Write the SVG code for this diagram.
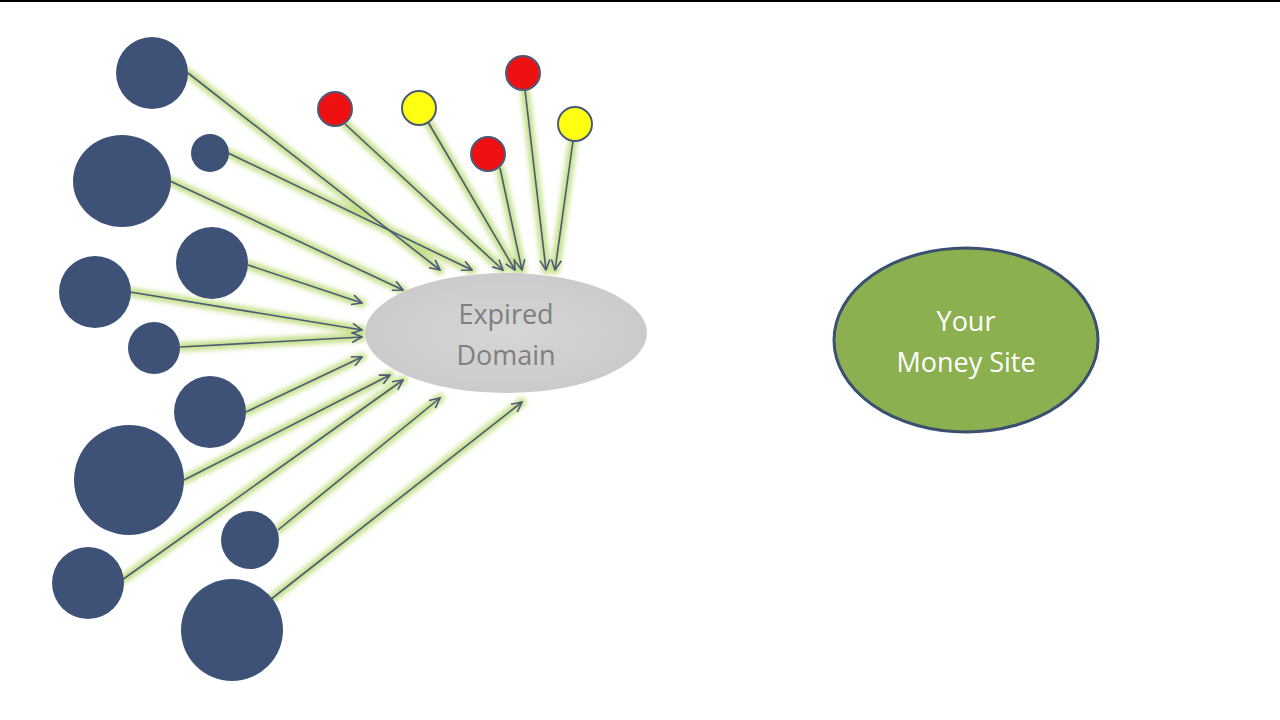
<svg xmlns="http://www.w3.org/2000/svg" width="1280" height="720" viewBox="0 0 1280 720">
<defs>
<marker id="ah" viewBox="0 0 12 12" refX="11" refY="6" markerWidth="12" markerHeight="12" markerUnits="userSpaceOnUse" orient="auto"><path d="M1,1 L11,6 L1,11" fill="none" stroke="#4a5a78" stroke-width="1.6"/></marker>
<filter id="glow" x="-20%" y="-20%" width="140%" height="140%"><feGaussianBlur stdDeviation="2.5"/></filter>
<radialGradient id="gray" cx="50%" cy="50%" r="50%"><stop offset="0" stop-color="#d6d6d6"/><stop offset="1" stop-color="#cbcbcb"/></radialGradient>
</defs>
<style>
.b{fill:#3d5276}
.r{fill:#ee1111;stroke:#4a5a78;stroke-width:2}
.y{fill:#ffff11;stroke:#4a5a78;stroke-width:2}
.g line{stroke:#c6e08a;stroke-width:9;stroke-linecap:round}
.a line{stroke:#4a5a78;stroke-width:1.6;marker-end:url(#ah)}
text{font-family:"Open Sans","DejaVu Sans",sans-serif;font-size:27px;text-anchor:middle}
</style>
<rect width="1280" height="720" fill="#fff"/>
<rect width="1280" height="2" fill="#000"/>
<g id="connectors">
<g class="g" filter="url(#glow)">
<line x1="188" y1="73" x2="440" y2="270"/><line x1="228" y1="153" x2="472" y2="270"/><line x1="170" y1="181" x2="403" y2="290"/><line x1="248" y1="265" x2="362" y2="303"/><line x1="130" y1="292" x2="362" y2="330"/><line x1="180" y1="347" x2="362" y2="337"/><line x1="246" y1="412" x2="362" y2="357"/><line x1="184" y1="480" x2="390" y2="375"/><line x1="278" y1="530" x2="440" y2="398"/><line x1="122" y1="580" x2="403" y2="380"/><line x1="270" y1="600" x2="522" y2="402"/><line x1="345" y1="124" x2="503" y2="270"/><line x1="428" y1="122" x2="515" y2="270"/><line x1="500" y1="168" x2="522" y2="270"/><line x1="525" y1="90" x2="546" y2="270"/><line x1="573" y1="141" x2="555" y2="270"/>
</g>
<g class="a">
<line x1="188" y1="73" x2="440" y2="270"/><line x1="228" y1="153" x2="472" y2="270"/><line x1="170" y1="181" x2="403" y2="290"/><line x1="248" y1="265" x2="362" y2="303"/><line x1="130" y1="292" x2="362" y2="330"/><line x1="180" y1="347" x2="362" y2="337"/><line x1="246" y1="412" x2="362" y2="357"/><line x1="184" y1="480" x2="390" y2="375"/><line x1="278" y1="530" x2="440" y2="398"/><line x1="122" y1="580" x2="403" y2="380"/><line x1="270" y1="600" x2="522" y2="402"/><line x1="345" y1="124" x2="503" y2="270"/><line x1="428" y1="122" x2="515" y2="270"/><line x1="500" y1="168" x2="522" y2="270"/><line x1="525" y1="90" x2="546" y2="270"/><line x1="573" y1="141" x2="555" y2="270"/>
</g>
</g>
<g id="n1"><circle class="b" cx="152" cy="73" r="36"/></g>
<g id="n2"><circle class="b" cx="210" cy="153" r="19"/></g>
<g id="n3"><ellipse class="b" cx="122" cy="181" rx="49" ry="46"/></g>
<g id="n4"><circle class="b" cx="212" cy="263" r="36"/></g>
<g id="n5"><circle class="b" cx="95" cy="292" r="36"/></g>
<g id="n6"><circle class="b" cx="154" cy="348" r="26"/></g>
<g id="n7"><circle class="b" cx="210" cy="412" r="36"/></g>
<g id="n8"><circle class="b" cx="129" cy="480" r="55"/></g>
<g id="n9"><circle class="b" cx="250" cy="540" r="29"/></g>
<g id="n10"><circle class="b" cx="88" cy="583" r="36"/></g>
<g id="n11"><circle class="b" cx="232" cy="630" r="51"/></g>
<g id="s1"><circle class="r" cx="335" cy="109" r="17"/></g>
<g id="s2"><circle class="y" cx="419" cy="108" r="17"/></g>
<g id="s3"><circle class="r" cx="488" cy="154" r="17"/></g>
<g id="s4"><circle class="r" cx="523" cy="73" r="17"/></g>
<g id="s5"><circle class="y" cx="575" cy="124" r="17"/></g>
<g id="expired"><ellipse cx="506" cy="333" rx="141" ry="60" fill="url(#gray)"/><text x="506" y="324" fill="#7f7f7f">Expired</text><text x="506" y="365" fill="#7f7f7f">Domain</text></g>
<g id="money"><ellipse cx="966" cy="340" rx="132" ry="92" fill="#8cb04f" stroke="#3b5070" stroke-width="3"/><text x="966" y="331" fill="#fff">Your</text><text x="966" y="372" fill="#fff">Money Site</text></g>
</svg>
